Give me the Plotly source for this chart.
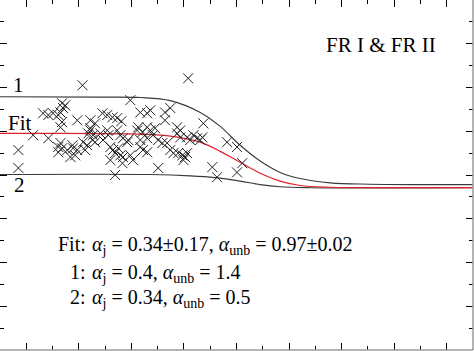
import plotly.graph_objects as go

# ---- data (arbitrary axis units, no tick labels shown) ----
pts_x = [1.07, 3.08, 1.98, 0.68, 0.74, 0.70, 0.65, 0.32, 0.42, 0.51, 0.61, 0.68, 0.65, 0.97,
         1.22, 1.31, 1.22, 1.45, 1.54, 1.64, 1.73, 1.81, 2.17, 2.30, 2.36, 2.64, 2.74, 2.64,
         2.87, 2.93, 3.37, 0.13, 0.42, 1.22, 1.27, 1.26, 1.31, 1.18, 1.54, 1.56, 1.73, 1.79,
         1.84, 1.92, 1.94, 2.13, 2.21, 2.30, 2.36, 2.45, 2.41, 2.30, 2.17, 0.61, 0.68, 0.78,
         0.88, 0.89, 0.84, 0.97, 0.93, 1.08, 1.16, 1.12, 0.65, 0.61, 1.60, 1.65, 1.75, 1.69,
         1.79, 1.84, 1.60, 1.83, 1.98, 2.03, 1.69, 2.17, 2.22, 2.30, 2.51, 2.59, 2.68, 2.74,
         2.80, 2.51, 2.89, 2.97, 3.02, 3.06, 2.99, 3.06, 3.12, 3.18, 3.25, 3.31, 3.35, 2.87,
         2.93, 3.54, 3.63, 3.82, 4.01, 4.11, 4.01, -0.15, -0.15, 1.41, 1.46, 2.11]
pts_y = [6.05, 6.21, 5.71, 5.64, 5.59, 5.53, 5.43, 5.41, 5.37, 5.41, 5.37, 5.21, 5.09, 5.25,
         5.25, 5.18, 5.07, 5.41, 5.37, 5.32, 5.30, 5.23, 5.43, 5.41, 5.48, 5.43, 5.53, 5.25,
         5.09, 5.02, 5.18, 4.91, 4.84, 5.02, 4.91, 4.80, 4.75, 4.95, 5.02, 4.91, 5.02, 4.91,
         4.84, 4.75, 4.80, 5.09, 4.98, 5.09, 5.02, 5.07, 4.91, 4.84, 4.80, 4.64, 4.61, 4.57,
         4.68, 4.61, 4.41, 4.57, 4.45, 4.75, 4.68, 4.57, 4.73, 4.52, 4.64, 4.57, 4.61, 4.50,
         4.45, 4.41, 4.34, 4.27, 4.45, 4.34, 4.00, 4.64, 4.57, 4.52, 4.80, 4.73, 4.73, 4.57,
         4.50, 4.16, 4.50, 4.45, 4.41, 4.50, 4.34, 4.86, 4.80, 4.91, 4.84, 4.80, 4.86, 4.95,
         4.86, 4.18, 3.95, 4.75, 4.64, 4.27, 4.06, 4.57, 4.16, 4.95, 4.80, 5.02]

curve1_x = [-0.5, 1.41, 2.17, 2.74, 3.31, 3.69, 4.07, 4.45, 4.83, 5.21, 5.78, 6.54, 8.5]
curve1_y = [5.79, 5.78, 5.77, 5.70, 5.43, 5.11, 4.68, 4.32, 4.06, 3.92, 3.82, 3.79, 3.78]

fit_x = [-0.5, 1.98, 2.74, 3.31, 3.69, 4.07, 4.45, 4.83, 5.21, 5.78, 6.73, 8.5]
fit_y = [4.95, 4.94, 4.89, 4.75, 4.54, 4.29, 4.04, 3.86, 3.76, 3.72, 3.71, 3.71]

curve2_x = [-0.5, 2.36, 3.12, 3.59, 4.07, 4.45, 4.83, 5.40, 8.5]
curve2_y = [4.01, 4.01, 3.98, 3.94, 3.86, 3.78, 3.73, 3.71, 3.71]

title_text = "FR I & FR II"
curve_labels = ["1", "Fit", "2"]
param_labels = ["Fit:", "1:", "2:"]
param_texts = [
    "<i>α</i><sub>j</sub> = 0.34±0.17, <i>α</i><sub>unb</sub> = 0.97±0.02",
    "<i>α</i><sub>j</sub> = 0.4, <i>α</i><sub>unb</sub> = 1.4",
    "<i>α</i><sub>j</sub> = 0.34, <i>α</i><sub>unb</sub> = 0.5",
]

SERIF = "Liberation Serif, Times New Roman, serif"

fig = go.Figure()
fig.add_trace(go.Scatter(x=curve1_x, y=curve1_y, mode="lines", line=dict(color="#3a3a3a", width=1.1, shape="spline"), hoverinfo="skip"))
fig.add_trace(go.Scatter(x=curve2_x, y=curve2_y, mode="lines", line=dict(color="#3a3a3a", width=1.1, shape="spline"), hoverinfo="skip"))
fig.add_trace(go.Scatter(x=fit_x, y=fit_y, mode="lines", line=dict(color="#e0202a", width=1.2, shape="spline"), hoverinfo="skip"))
fig.add_trace(go.Scatter(x=pts_x, y=pts_y, mode="markers",
                         marker=dict(symbol="x-thin", size=10, line=dict(color="#222222", width=1))))

axis_common = dict(showgrid=False, zeroline=False, showticklabels=False, ticks="inside",
                   tickcolor="black", tickwidth=1.4, ticklen=7, mirror="allticks",
                   showline=True, linecolor="rgba(0,0,0,0)", dtick=1, tick0=0)
fig.update_xaxes(range=[-0.5, 8.5], minor=dict(ticks="inside", ticklen=4, tickcolor="black", tickwidth=1.4, dtick=0.5, tick0=0), **axis_common)
fig.update_yaxes(range=[0, 8], minor=dict(ticks="inside", ticklen=4, tickcolor="black", tickwidth=1.4, dtick=0.5, tick0=0), **axis_common)

# frame lines on the visible (right / bottom) edges
fig.add_shape(type="line", xref="paper", yref="paper", x0=0, x1=1, y0=0, y1=0, line=dict(color="#9a9a9a", width=1.5))
fig.add_shape(type="line", xref="paper", yref="paper", x0=1, x1=1, y0=0, y1=1, line=dict(color="#9a9a9a", width=1.5))

ann = []
ann.append(dict(x=6.75, y=6.97, xref="x", yref="y", text=title_text, showarrow=False,
                xanchor="center", yanchor="middle", font=dict(family=SERIF, size=21, color="black")))
for lab, lx, ly in zip(curve_labels, [-0.15, -0.12, -0.12], [6.06, 5.20, 3.78]):
    ann.append(dict(x=lx, y=ly, xref="x", yref="y", text=lab, showarrow=False,
                    xanchor="center", yanchor="middle", font=dict(family=SERIF, size=21, color="black")))
for lab, txt, ly in zip(param_labels, param_texts, [2.72, 2.08, 1.50]):
    ann.append(dict(x=1.17, y=ly, xref="x", yref="y", text=lab, showarrow=False,
                    xanchor="right", yanchor="top", font=dict(family=SERIF, size=20, color="black")))
    ann.append(dict(x=1.21, y=ly, xref="x", yref="y", text=txt, showarrow=False,
                    xanchor="left", yanchor="top", font=dict(family=SERIF, size=20, color="black")))

fig.update_layout(width=474, height=351, margin=dict(l=0, r=1, t=0, b=1),
                  paper_bgcolor="white", plot_bgcolor="white", showlegend=False,
                  annotations=ann)

fig.write_html("out.html")
